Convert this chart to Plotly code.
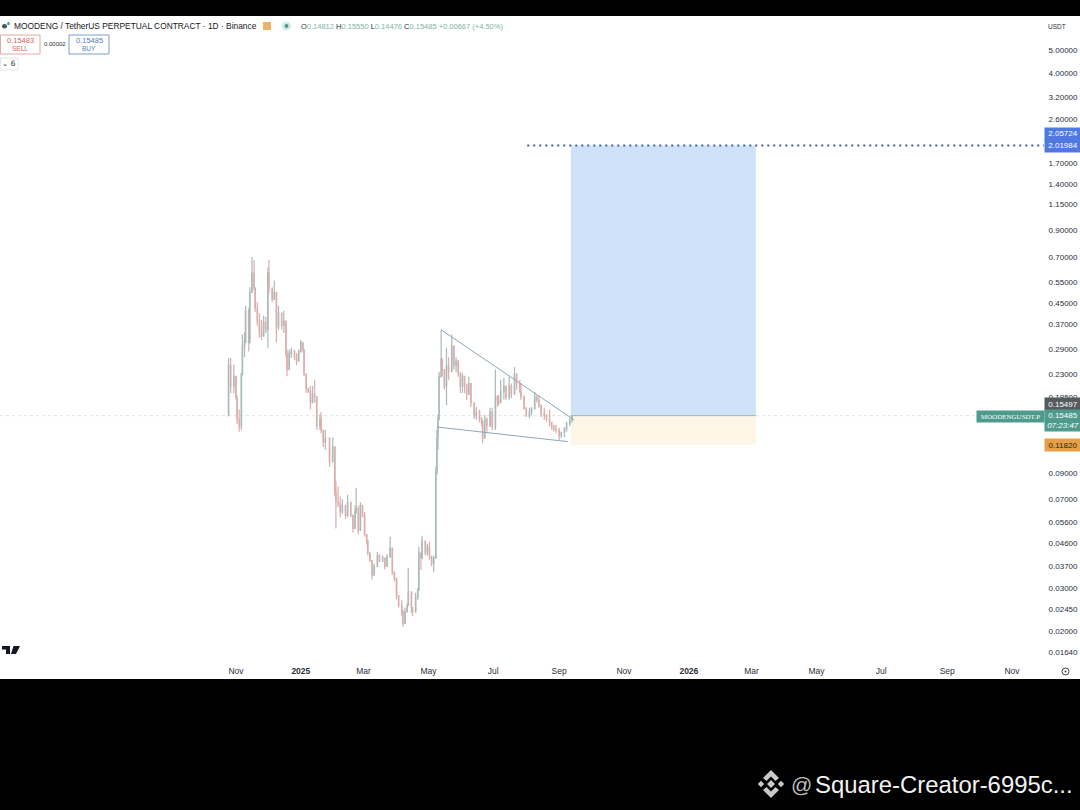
import pandas as pd
import plotly.graph_objects as go

START = "2024-10-25"
day_offset = [0,2,5,7,8,10,12,13,15,16,19,20,22,24,25,27,29,31,33,35,37,38,41,43,45,47,50,52,54,55,57,59,62,64,66,68,70,71,73,75,77,79,81,83,86,87,89,91,95,98,
100,101,103,105,107,110,112,115,117,119,120,122,124,126,128,130,131,133,135,137,140,142,145,147,149,152,154,156,158,160,163,164,166,168,169,172,173,176,178,179,181,182,185,187,189,191,193,195,196,197,
198,200,201,203,205,207,210,212,214,216,218,220,222,224,226,228,231,233,236,238,239,241,243,246,248,251,253,254,256,259,261,264,266,269,271,274,275,278,280,283,285,288,290,292,294,297,299,302,304,306,308,311,313,316,318,321,323]
highs = [.268,.268,.251,.225,.185,.164,.233,.335,.342,.44,.43,.525,.70,.68,.50,.455,.41,.385,.40,.395,.635,.68,.51,.56,.465,.44,.41,.42,.35,.29,.29,.295,.29,.28,.29,.318,.31,.29,.218,.202,.205,.205,.218,.175,.157,.16,.131,.135,.119,.126,
.096,.083,.079,.072,.070,.066,.073,.064,.059,.066,.078,.066,.068,.063,.062,.050,.0476,.0405,.0394,.038,.0425,.0415,.041,.0388,.0415,.049,.0394,.0347,.0318,.0273,.0269,.0245,.025,.026,.0365,.027,.025,.0288,.030,.0445,.0423,.0495,.0467,.0458,.0467,.041,.041,.0955,.1353,.157,
.235,.35,.255,.24,.295,.27,.334,.282,.27,.263,.235,.233,.21,.21,.224,.205,.172,.168,.164,.153,.149,.156,.152,.167,.167,.24,.188,.188,.218,.222,.205,.224,.21,.246,.228,.218,.21,.188,.168,.167,.168,.194,.188,.188,.172,.167,.157,.164,.144,.142,.142,.138,.133,.139,.146,.152,.1555]
lows = [.155,.192,.192,.18,.143,.133,.135,.228,.27,.31,.285,.375,.50,.51,.415,.365,.325,.318,.34,.34,.295,.495,.455,.465,.31,.35,.35,.34,.27,.225,.24,.268,.263,.25,.263,.282,.282,.225,.192,.192,.164,.18,.175,.135,.135,.131,.115,.112,.095,.105,
.072,.053,.065,.059,.061,.058,.059,.059,.051,.058,.061,.05,.058,.059,.049,.0455,.041,.0385,.0326,.034,.0385,.0385,.0385,.036,.037,.04,.034,.032,.027,.025,.023,.0208,.0223,.0245,.026,.0238,.023,.025,.0269,.0348,.0358,.041,.041,.041,.0394,.037,.035,.04,.0885,.112,
.148,.222,.225,.198,.171,.218,.24,.24,.234,.224,.192,.192,.192,.18,.188,.168,.15,.149,.145,.14,.119,.139,.133,.145,.135,.135,.168,.171,.175,.18,.18,.18,.183,.194,.198,.192,.18,.164,.153,.151,.155,.164,.175,.167,.153,.149,.146,.14,.135,.133,.131,.123,.125,.126,.133,.14,.1448]
closes = [.25,.205,.225,.185,.15,.14,.228,.30,.31,.42,.31,.50,.60,.52,.43,.38,.345,.33,.375,.35,.60,.52,.47,.50,.36,.41,.365,.38,.28,.24,.28,.285,.27,.26,.285,.31,.29,.23,.20,.195,.175,.19,.185,.14,.15,.135,.12,.125,.10,.115,
.075,.068,.067,.062,.066,.06,.068,.06,.053,.062,.064,.052,.066,.06,.05,.047,.042,.039,.034,.037,.041,.039,.04,.037,.0405,.044,.035,.033,.028,.0255,.024,.0215,.024,.0255,.029,.025,.024,.0275,.0295,.042,.04,.047,.042,.0445,.04,.038,.04,.09,.125,.15,
.225,.265,.24,.205,.25,.235,.30,.25,.26,.23,.205,.225,.205,.19,.21,.175,.155,.16,.15,.145,.125,.15,.14,.16,.14,.185,.18,.175,.195,.205,.185,.205,.19,.23,.21,.195,.185,.165,.155,.16,.165,.185,.18,.17,.158,.155,.15,.145,.14,.136,.135,.128,.132,.137,.144,.148,.15485]
opens = [.155] + closes[:-1]
dates = pd.to_datetime(START) + pd.to_timedelta(day_offset, unit="D")

y_tick_values = [5,4,3.2,2.6,1.7,1.4,1.15,.9,.7,.55,.45,.37,.29,.23,.185,.09,.07,.056,.046,.037,.03,.0245,.02,.0164]
x_tick_dates = ["2024-11-01","2025-01-01","2025-03-01","2025-05-01","2025-07-01","2025-09-01","2025-11-01","2026-01-01","2026-03-01","2026-05-01","2026-07-01","2026-09-01","2026-11-01"]
x_tick_labels = ["Nov","<b>2025</b>","Mar","May","Jul","Sep","Nov","<b>2026</b>","Mar","May","Jul","Sep","Nov"]

entry, target, stop = 0.1549, 2.01984, 0.1175
pos_start, pos_end = "2025-09-12", "2026-03-05"

def X(p): return p / 1080
def Y(p): return 1 - p / 810

def path(points):
    return "M" + " L".join(f"{X(a):.5f},{Y(b):.5f}" for a, b in points) + " Z"

def diamond(cx, cy, r):
    return path([(cx, cy - r), (cx + r, cy), (cx, cy + r), (cx - r, cy)])

fig = go.Figure(go.Candlestick(
    x=dates, open=opens, high=highs, low=lows, close=closes,
    increasing=dict(line=dict(color="#aab9b9", width=1.2), fillcolor="#aab9b9"),
    decreasing=dict(line=dict(color="#dbaeac", width=1.2), fillcolor="#dbaeac"),
    whiskerwidth=0, hoverinfo="skip", showlegend=False))

def pshape(p, fill, **kw):
    return dict(type="path", xref="paper", yref="paper", path=p, fillcolor=fill, line=dict(width=0), **kw)

shapes = [
    dict(type="rect", xref="paper", yref="paper", x0=0, x1=1, y0=Y(679), y1=Y(16), fillcolor="white", line=dict(width=0), layer="below"),
    dict(type="rect", x0=pos_start, x1=pos_end, y0=entry, y1=target, fillcolor="#cfe2f9", line=dict(width=0), layer="below"),
    dict(type="rect", x0=pos_start, x1=pos_end, y0=stop, y1=entry, fillcolor="#fdf6e6", line=dict(width=0), layer="below"),
    dict(type="line", x0=pos_start, x1=pos_end, y0=entry, y1=entry, line=dict(color="#9db8b4", width=1)),
    dict(type="line", xref="x domain", x0=0, x1=1, y0=closes[-1], y1=closes[-1], line=dict(color="#dbe8e5", width=1, dash="dot"), layer="below"),
    dict(type="line", x0="2025-08-02", x1="2026-12-01", y0=target, y1=target, line=dict(color="#3d62ad", width=2, dash="2px,4px")),
    dict(type="line", x0="2025-05-13", x1="2025-09-15", y0=.35, y1=.1488, line=dict(color="#8aa6bb", width=1)),
    dict(type="line", x0="2025-05-09", x1="2025-09-09", y0=.139, y1=.121, line=dict(color="#8aa6bb", width=1)),
    # buy / sell boxes
    dict(type="rect", xref="paper", yref="paper", x0=X(0.5), x1=X(40), y0=Y(54), y1=Y(35), line=dict(color="#e2a9a5", width=1), fillcolor="white"),
    dict(type="rect", xref="paper", yref="paper", x0=X(69), x1=X(109), y0=Y(54), y1=Y(35), line=dict(color="#7f9fc4", width=1), fillcolor="white"),
    dict(type="rect", xref="paper", yref="paper", x0=X(0.5), x1=X(18), y0=Y(70), y1=Y(58), line=dict(color="#e6e6e6", width=1), fillcolor="white"),
    # header marks
    dict(type="rect", xref="paper", yref="paper", x0=X(263), x1=X(271), y0=Y(30), y1=Y(22), line=dict(width=0), fillcolor="#ecb468"),
    dict(type="circle", xref="paper", yref="paper", x0=X(282), x1=X(291), y0=Y(30.5), y1=Y(21.5), line=dict(width=0), fillcolor="#d6ebe7"),
    dict(type="circle", xref="paper", yref="paper", x0=X(284.5), x1=X(288.5), y0=Y(28), y1=Y(24), line=dict(width=0), fillcolor="#4e9a8d"),
    dict(type="circle", xref="paper", yref="paper", x0=X(2), x1=X(7), y0=Y(28.5), y1=Y(24), line=dict(width=0), fillcolor="#4a5560"),
    dict(type="circle", xref="paper", yref="paper", x0=X(7), x1=X(10), y0=Y(25), y1=Y(22), line=dict(width=0), fillcolor="#4e9a8d"),
    # chart logo
    pshape(path([(2, 646), (10, 646), (10, 654), (6, 654), (6, 649.5), (2, 649.5)]), "#131722"),
    pshape(path([(13.5, 646), (20, 646), (16, 654), (11, 654)]), "#131722"),
    # settings icon
    dict(type="circle", xref="paper", yref="paper", x0=X(1062), x1=X(1069), y0=Y(675), y1=Y(668), line=dict(color="#444", width=1), fillcolor="white"),
    dict(type="circle", xref="paper", yref="paper", x0=X(1064.5), x1=X(1066.5), y0=Y(672.5), y1=Y(670.5), line=dict(width=0), fillcolor="#444"),
    # exchange mark in the footer
    pshape(diamond(771, 784, 4), "#c9c9c9"),
    pshape(diamond(761, 784, 3.2), "#c9c9c9"),
    pshape(diamond(781, 784, 3.2), "#c9c9c9"),
    pshape(path([(771, 770), (779, 778), (775.5, 781), (771, 776.5), (766.5, 781), (763, 778)]), "#c9c9c9"),
    pshape(path([(771, 798), (779, 790), (775.5, 787), (771, 791.5), (766.5, 787), (763, 790)]), "#c9c9c9"),
]

def note(text, x, y, size=8, color="#2a2e39", anchor="left", family="Liberation Sans", **kw):
    return dict(text=text, xref="paper", yref="paper", x=X(x), y=Y(y), xanchor=anchor, yanchor="middle",
                showarrow=False, font=dict(size=size, color=color, family=family), **kw)

def price_tag(text, top, bottom, bg, color="white"):
    return dict(text=text, xref="paper", yref="paper", x=X(1044), y=Y((top + bottom) / 2), xanchor="left", yanchor="middle",
                showarrow=False, width=36, height=bottom - top, bgcolor=bg, borderpad=0, align="center",
                font=dict(size=8, color=color, family="Liberation Sans"))

val = "#7fb3a9"
ohlc = (f"O<span style='color:{val}'>0.14812</span> H<span style='color:{val}'>0.15550</span> "
        f"L<span style='color:{val}'>0.14476</span> C<span style='color:{val}'>0.15485</span> "
        f"<span style='color:{val}'>+0.00667 (+4.50%)</span>")
annotations = [
    note("MOODENG / TetherUS PERPETUAL CONTRACT · 1D · Binance", 12, 26, size=8.4, color="#131722"),
    note(ohlc, 299, 26, size=7.5, color="#2a2e39"),
    note("USDT", 1046, 26, size=6.5, color="#2a2e39"),
    note("0.15483", 20, 40, size=7.5, color="#d9605a", anchor="center"),
    note("SELL", 20, 48.5, size=6.5, color="#d9605a", anchor="center"),
    note("0.00002", 54.5, 44, size=6, color="#2a2e39", anchor="center"),
    note("0.15485", 89, 40, size=7.5, color="#4f7fbd", anchor="center"),
    note("BUY", 89, 48.5, size=6.5, color="#4f7fbd", anchor="center"),
    note("⌄ 6", 9, 63.5, size=7.5, color="#2a2e39", anchor="center", family="DejaVu Sans"),
    price_tag("2.05724", 128, 139.5, "#4f78e0"),
    price_tag("2.01984", 140.5, 152, "#4f78e0"),
    price_tag("0.15497", 398, 410, "#555b5e"),
    price_tag("0.15485<br><i>07:23:47</i>", 410, 431, "#4e9a8d"),
    price_tag("0.11820", 439, 451, "#e8a044", color="#222"),
    dict(text="MOODENGUSDT.P", xref="paper", yref="paper", x=X(976), y=Y(416.5), xanchor="left", yanchor="middle",
         showarrow=False, width=67, height=11, bgcolor="#4e9a8d", borderpad=0, align="center",
         font=dict(size=7, color="white", family="Liberation Serif")),
    note("@", 789, 784, size=21, color="#bdbdbd"),
    note("Square-Creator-6995c...", 813, 784, size=23.9, color="#f2f2f2"),
]

fig.update_layout(
    width=1080, height=810, autosize=False,
    margin=dict(l=0, r=0, t=0, b=0),
    paper_bgcolor="black", plot_bgcolor="rgba(0,0,0,0)",
    showlegend=False, dragmode=False, hovermode=False,
    shapes=shapes, annotations=annotations,
    xaxis=dict(domain=[0, 1045 / 1080], type="date", range=["2024-03-24", "2026-12-02"],
               rangeslider=dict(visible=False), showgrid=False, zeroline=False, showline=False,
               tickmode="array", tickvals=x_tick_dates, ticktext=x_tick_labels,
               ticks="outside", ticklen=2, tickcolor="rgba(0,0,0,0)",
               tickfont=dict(size=8.5, color="#2a2e39", family="Liberation Sans")),
    yaxis=dict(domain=[Y(661), Y(16)], type="log", side="right", anchor="x", range=[-1.8227, 0.8393],
               showgrid=False, zeroline=False, showline=False,
               tickmode="array", tickvals=y_tick_values, ticktext=[f"{v:.5f}" for v in y_tick_values],
               ticks="outside", ticklen=1, tickcolor="rgba(0,0,0,0)",
               tickfont=dict(size=8, color="#2a2e39", family="Liberation Sans")),
)

fig.write_html("out.html", config={"displayModeBar": False},
               post_script="document.body.style.margin='0';document.body.style.background='black';document.body.style.overflow='hidden';")
